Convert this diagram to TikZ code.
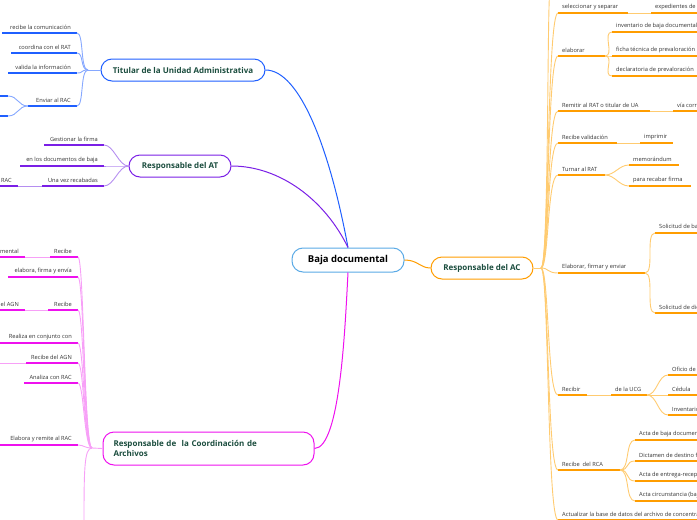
\documentclass[tikz,border=0pt]{standalone}
\usepackage{fontspec}
\setmainfont{Open Sans}
\usetikzlibrary{calc}
\definecolor{cB}{HTML}{1F5FFF}\definecolor{lB}{HTML}{86A8FF}
\definecolor{cP}{HTML}{7A1FE6}\definecolor{lP}{HTML}{B58EF0}
\definecolor{cM}{HTML}{EE11EE}\definecolor{lM}{HTML}{F7A0F7}
\definecolor{cO}{HTML}{FF9D00}\definecolor{lO}{HTML}{FFCB70}
\definecolor{cC}{HTML}{5AAAE6}\definecolor{tG}{HTML}{1B4D3E}\definecolor{tx}{HTML}{333333}
\tikzset{
 hub/.style={draw,line width=1pt,rounded corners=11pt,fill=white,text=tG,font=\bfseries\fontsize{8}{10}\selectfont,align=left,inner sep=0pt},
 lt/.style={font=\fontsize{5.7}{7}\selectfont,text=tx,inner sep=1pt},
 ul/.style={line width=1.4pt},
 br/.style={line width=0.9pt}
}
\newcommand\rleaf[6]{\coordinate (#1-s) at (#2,#4);\coordinate (#1-e) at (#3,#4);
 \node[lt,anchor=south west] (#1) at (#2+3,#4-2) {#5};\draw[ul,#6] (#1-s)--(#1-e);}
\newcommand\lleaf[6]{\coordinate (#1-s) at (#2,#4);\coordinate (#1-e) at (#3,#4);
 \node[lt,anchor=south east] (#1) at (#3-5,#4-2) {#5};\draw[ul,#6] (#1-s)--(#1-e);}
\newcommand\rcon[3]{\draw[br,#3] (#1) .. controls +(10,0) and +(-10,0) .. (#2);}
\newcommand\lcon[3]{\draw[br,#3] (#1) .. controls +(-10,0) and +(10,0) .. (#2);}
\begin{document}
\begin{tikzpicture}[x=1pt,y=-1pt]
\useasboundingbox (0,0) rectangle (697,520);
\clip (0,0) rectangle (697,520);
% hubs
\node[hub,draw=cC,text=black,minimum width=112pt,minimum height=24pt,align=center,font=\bfseries\fontsize{9.5}{11}\selectfont] (baja) at (348,260) {Baja documental};
\node[hub,draw=cB,minimum width=164pt,minimum height=22pt,align=center] (tit) at (183,70) {Titular de la Unidad Administrativa};
\node[hub,draw=cP,minimum width=102pt,minimum height=22pt,align=center] (at) at (180,166) {Responsable del AT};
\node[hub,draw=cM,minimum width=211pt,minimum height=33pt,text width=190pt] (rca) at (208.5,448.5) {Responsable de\ \ la Coordinación de\\Archivos};
\node[hub,draw=cO,minimum width=102pt,minimum height=22pt,align=center] (ac) at (482,268) {Responsable del AC};
\draw[line width=1pt,cB] (baja.north) .. controls (330,150) and (300,70) .. (tit.east);
\draw[line width=1pt,cP] (baja.north) .. controls (325,200) and (280,166) .. (at.east);
\draw[line width=1pt,cM] (baja.south) .. controls (345,330) and (340,448) .. (rca.east);
\draw[line width=1pt,cO] (baja.east) .. controls (418,260) and (420,268) .. (ac.west);
% Titular
\lleaf{t1}{2}{77}{33}{recibe la comunicación}{cB}
\lleaf{t2}{11}{77}{53}{coordina con el RAT}{cB}
\lleaf{t3}{8}{77}{73}{valida la información}{cB}
\lleaf{t4}{28}{77}{106}{Enviar al RAC}{cB}
\draw[br,lB] (tit.west)--(88,70);
\foreach \c in {t1,t2,t3,t4}{\draw[br,lB] let \p1=(\c-e) in (88,70) .. controls (80,70) and (84,\y1) .. (\c-e);}
\lleaf{t5}{-5}{8}{96}{}{cB}\lleaf{t6}{-5}{8}{116}{}{cB}
\foreach \c in {t5,t6}{\lcon{t4-s}{\c-e}{lB}}
% AT
\lleaf{a1}{44}{104}{145}{Gestionar la firma}{cP}
\lleaf{a2}{20}{104}{166}{en los documentos de baja}{cP}
\lleaf{a3}{42}{104}{186}{Una vez recabadas}{cP}
\foreach \c in {a1,a2,a3}{\lcon{at.west}{\c-e}{lP}}
\lleaf{a4}{-5}{18}{186}{RAC}{cP}
\draw[br,lP] (a4-e)--(a3-s);
% RCA
\lleaf{m1}{50}{78}{257}{Recibe}{cM}
\lleaf{m2}{8}{78}{277}{elabora, firma y envía}{cM}
\lleaf{m3}{48}{78}{310}{Recibe}{cM}
\lleaf{m4}{0}{78}{343}{Realiza en conjunto con}{cM}
\lleaf{m5}{26}{78}{363}{Recibe del AGN}{cM}
\lleaf{m6}{24}{78}{383}{Analiza con RAC}{cM}
\lleaf{m7}{0}{78}{445}{Elabora y remite al RAC}{cM}
\draw[br,lM] (rca.west)--(92,448);
\foreach \c in {m1,m2,m3,m4,m5,m6,m7}{\draw[br,lM] let \p1=(\c-e) in (92,448) .. controls (84,448) and (84,\y1) .. (\c-e);}
\coordinate (m8) at (84,530);
\draw[br,lM] (92,448) .. controls (84,448) and (84,470) .. (m8);
\lleaf{m9}{-5}{25}{257}{Proceso documental}{cM}\draw[br,lM] (m9-e)--(m1-s);
\lleaf{m10}{-5}{25}{310}{Dictamen del AGN}{cM}\draw[br,lM] (m10-e)--(m3-s);
\lleaf{m11}{-5}{0}{363}{}{cM}\draw[br,lM] (m11-e)--(m5-s);
% AC
\rleaf{o1}{558}{628}{13}{seleccionar y separar}{cO}
\rleaf{o2}{558}{605}{56}{elaborar}{cO}
\rleaf{o3}{558}{650}{111}{Remitir al RAT o titular de UA}{cO}
\rleaf{o4}{558}{617}{143}{Recibe validación}{cO}
\rleaf{o5}{558}{605}{175}{Turnar al RAT}{cO}
\rleaf{o6}{558}{645}{273}{Elaborar, firmar y enviar}{cO}
\rleaf{o7}{558}{587}{395}{Recibir}{cO}
\rleaf{o8}{558}{620}{470}{Recibe\ \ del RCA}{cO}
\rleaf{o9}{558}{720}{520}{Actualizar la base de datos del archivo de concentración}{cO}
\draw[br,lO] (ac.east)--(541,268);
\foreach \c in {o1,o2,o3,o4,o5,o6,o7,o8,o9}{\draw[br,lO] let \p1=(\c-s) in (541,268) .. controls (549,268) and (547,\y1) .. (\c-s);}
\coordinate (o0) at (550,-10);\draw[br,lO] (541,268) .. controls (549,268) and (547,0) .. (o0);
\rleaf{p1}{651}{720}{13}{expedientes de baja}{cO}\draw[br,lO] (o1-e)--(p1-s);
\rleaf{p2}{612}{720}{32}{inventario de baja documental}{cO}
\rleaf{p3}{612}{720}{56}{ficha técnica de prevaloración}{cO}
\rleaf{p4}{612}{720}{76}{declaratoria de prevaloración}{cO}
\foreach \c in {p2,p3,p4}{\rcon{o2-e}{\c-s}{lO}}
\rleaf{p5}{673}{720}{111}{vía correo}{cO}\draw[br,lO] (o3-e)--(p5-s);
\rleaf{p6}{640}{673}{143}{imprimir}{cO}\draw[br,lO] (o4-e)--(p6-s);
\rleaf{p7}{629}{679}{165}{memorándum}{cO}
\rleaf{p8}{629}{691}{186}{para recabar firma}{cO}
\foreach \c in {p7,p8}{\rcon{o5-e}{\c-s}{lO}}
\rleaf{p9}{655}{720}{233}{Solicitud de baja}{cO}
\rleaf{p10}{655}{720}{313}{Solicitud de dictamen}{cO}
\foreach \c in {p9,p10}{\rcon{o6-e}{\c-s}{lO}}
\rleaf{p11}{611}{647}{395}{de la UCG}{cO}\draw[br,lO] (o7-e)--(p11-s);
\rleaf{p12}{668}{720}{375}{Oficio de}{cO}
\rleaf{p13}{668}{720}{395}{Cédula}{cO}
\rleaf{p14}{668}{720}{415}{Inventario}{cO}
\foreach \c in {p12,p13,p14}{\rcon{p11-e}{\c-s}{lO}}
\rleaf{p15}{635}{720}{440}{Acta de baja documental}{cO}
\rleaf{p16}{635}{720}{461}{Dictamen de destino final}{cO}
\rleaf{p17}{635}{720}{481}{Acta de entrega-recepción}{cO}
\rleaf{p18}{635}{720}{501}{Acta circunstancia (baja)}{cO}
\foreach \c in {p15,p16,p17,p18}{\rcon{o8-e}{\c-s}{lO}}
\end{tikzpicture}
\end{document}
